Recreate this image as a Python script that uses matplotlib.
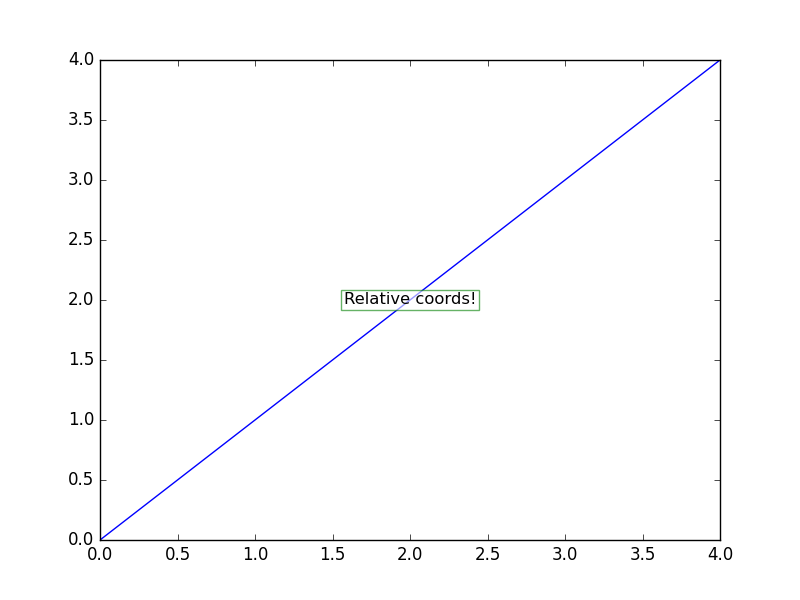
import matplotlib
matplotlib.use('Agg')
import matplotlib.pyplot as plt

plt.style.use('classic')

# line data
xs = [0, 1, 2, 3, 4]
ys = [0, 1, 2, 3, 4]
label_text = 'Relative coords!'

fig, ax = plt.subplots(figsize=(8, 6), dpi=100)
ax.plot(xs, ys, color='blue')
ax.set_xlim(0, 4)
ax.set_ylim(0, 4)

ax.text(0.5, 0.5, label_text, transform=ax.transAxes,
        ha='center', va='center', fontsize=11.8,
        bbox=dict(facecolor='white', edgecolor='green', alpha=0.6, pad=2))

fig.savefig('out.png', dpi=100)
